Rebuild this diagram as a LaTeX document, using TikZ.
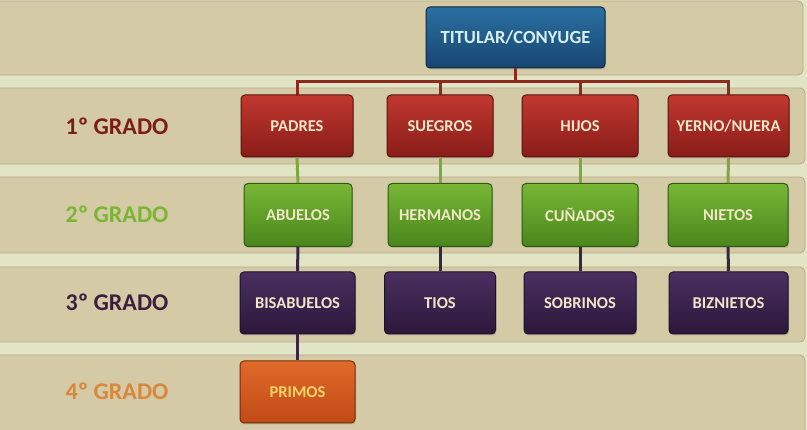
\documentclass[tikz,border=0pt]{standalone}
\usepackage{fontspec}
\setmainfont{Carlito}
\usetikzlibrary{shadows}
\definecolor{bgc}{HTML}{E1E5C5}
\definecolor{bandc}{HTML}{D4CAA6}
\definecolor{bandedge}{HTML}{B5AC86}
\definecolor{redT}{HTML}{C03830}\definecolor{redB}{HTML}{8A1C18}\definecolor{redD}{HTML}{561410}
\definecolor{grnT}{HTML}{78B636}\definecolor{grnB}{HTML}{4A861C}\definecolor{grnD}{HTML}{2F5A12}
\definecolor{purT}{HTML}{4A2F60}\definecolor{purB}{HTML}{2C183B}\definecolor{purD}{HTML}{1E1028}
\definecolor{orgT}{HTML}{E06A2A}\definecolor{orgB}{HTML}{C04A15}\definecolor{orgD}{HTML}{7A2A08}
\definecolor{bluT}{HTML}{2A70A2}\definecolor{bluB}{HTML}{174570}\definecolor{bluD}{HTML}{0E2A45}
\definecolor{boxtxt}{HTML}{F0E6C8}
\definecolor{tittxt}{HTML}{D6EFEF}
\definecolor{primtxt}{HTML}{F5D36A}
\definecolor{lab1}{HTML}{7A1E14}
\definecolor{lab2}{HTML}{7AB534}
\definecolor{lab3}{HTML}{3A1F3E}
\definecolor{lab4}{HTML}{D9873A}
\definecolor{lnred}{HTML}{8E2A1F}
\definecolor{lngrn}{HTML}{7FA83A}
\definecolor{lnpur}{HTML}{3B2545}
\tikzset{
  band/.style={fill=bandc, draw=bandedge, line width=0.8pt, rounded corners=5pt},
  kbox/.style={rounded corners=4pt, minimum height=62pt, inner sep=0pt, line width=1pt,
    font=\fontsize{16.5}{16.5}\selectfont\bfseries, text=boxtxt,
    drop shadow={opacity=0.35, shadow xshift=1pt, shadow yshift=-1.5pt}},
  redbox/.style={kbox, top color=redT, bottom color=redB, draw=redD},
  grnbox/.style={kbox, top color=grnT, bottom color=grnB, draw=grnD},
  purbox/.style={kbox, top color=purT, bottom color=purB, draw=purD},
  orgbox/.style={kbox, top color=orgT, bottom color=orgB, draw=orgD, text=primtxt},
  blubox/.style={kbox, top color=bluT, bottom color=bluB, draw=bluD, text=tittxt,
    font=\fontsize{18.5}{18.5}\selectfont\bfseries},
  grlabel/.style={font=\fontsize{24}{24}\selectfont\bfseries},
  conn/.style={line width=3pt}
}
\begin{document}
\begin{tikzpicture}[x=1pt,y=-1pt]
\fill[bgc] (0,0) rectangle (807,430);
\useasboundingbox (0,0) rectangle (807,430);
% bands
\draw[band] (-6,1) rectangle (803,75);
\draw[band] (-6,88) rectangle (805,164);
\draw[band] (-6,177) rectangle (805,253);
\draw[band] (-6,267) rectangle (805,342);
\draw[band] (-6,355) rectangle (805,440);
% labels
\node[grlabel, text=lab1] (g1) at (117,126) {1º GRADO};
\node[grlabel, text=lab2] (g2) at (117,214) {2º GRADO};
\node[grlabel, text=lab3] (g3) at (117,302) {3º GRADO};
\node[grlabel, text=lab4] (g4) at (117,391) {4º GRADO};
% connectors from the top box (drawn first, under boxes)
\coordinate (j) at (515,82);
\coordinate (tbot) at (515,60);
\coordinate (padN) at (297,100);
\coordinate (sueN) at (440,100);
\coordinate (hijN) at (580,100);
\coordinate (yerN) at (728.5,100);
\draw[conn, lnred] (tbot) -- (j);
\draw[conn, lnred] (padN) |- (yerN |- j) -- (yerN);
\draw[conn, lnred] (sueN) -- (sueN |- j);
\draw[conn, lnred] (hijN) -- (hijN |- j);
% boxes
\node[blubox, minimum width=179pt, minimum height=61pt] (tit) at (515.5,37.5) {TITULAR/CONYUGE};
\node[redbox, minimum width=112pt] (padres) at (297,126) {PADRES};
\node[redbox, minimum width=106pt] (suegros) at (440,126) {SUEGROS};
\node[redbox, minimum width=116pt] (hijos) at (580,126) {HIJOS};
\node[redbox, minimum width=121pt] (yerno) at (728.5,126) {YERNO/NUERA};
\node[grnbox, minimum width=108pt, minimum height=63pt] (abuelos) at (298,215) {ABUELOS};
\node[grnbox, minimum width=104pt, minimum height=63pt] (hermanos) at (440,215) {HERMANOS};
\node[grnbox, minimum width=116pt, minimum height=63pt] (cunados) at (580,215) {CUÑADOS};
\node[grnbox, minimum width=120pt, minimum height=63pt] (nietos) at (728,215) {NIETOS};
\node[purbox, minimum width=115pt] (bisab) at (297.5,303) {BISABUELOS};
\node[purbox, minimum width=111pt] (tios) at (440,303) {TIOS};
\node[purbox, minimum width=112pt] (sobrinos) at (580,303) {SOBRINOS};
\node[purbox, minimum width=119pt] (biznietos) at (728.5,303) {BIZNIETOS};
\node[orgbox, minimum width=115pt] (primos) at (297.5,392) {PRIMOS};
% vertical links between rows
\draw[conn, lngrn] (padres.south) -- (abuelos.north);
\draw[conn, lngrn] (suegros.south) -- (hermanos.north);
\draw[conn, lngrn] (hijos.south) -- (cunados.north);
\draw[conn, lngrn] (yerno.south) -- (nietos.north);
\draw[conn, lnpur] (abuelos.south) -- (bisab.north);
\draw[conn, lnpur] (hermanos.south) -- (tios.north);
\draw[conn, lnpur] (cunados.south) -- (sobrinos.north);
\draw[conn, lnpur] (nietos.south) -- (biznietos.north);
\draw[conn, lnpur] (bisab.south) -- (primos.north);
\end{tikzpicture}
\end{document}
